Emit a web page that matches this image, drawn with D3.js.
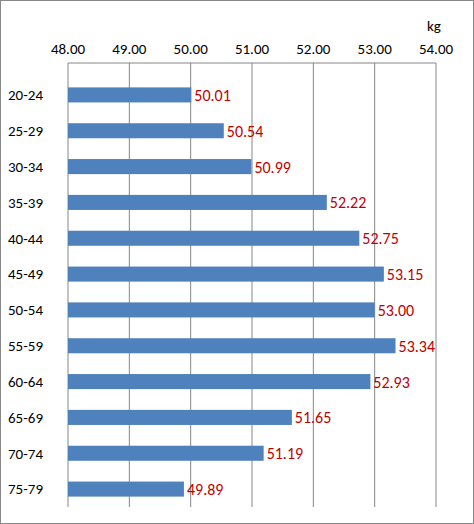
<!DOCTYPE html><html><head><script src="https://cdn.jsdelivr.net/npm/d3@7"></script>
<style>body{margin:0;background:#fff}</style></head><body><script>
const categories=["20-24","25-29","30-34","35-39","40-44","45-49","50-54","55-59","60-64","65-69","70-74","75-79"];
const values=[50.01,50.54,50.99,52.22,52.75,53.15,53.00,53.34,52.93,51.65,51.19,49.89];
const ticks=[48,49,50,51,52,53,54];
const W=474,H=524;
const svg=d3.select("body").append("svg").attr("width",W).attr("height",H).style("font-family","Calibri, Carlito, 'Liberation Sans', sans-serif");
svg.append("rect").attr("x",0.5).attr("y",0.5).attr("width",W-1).attr("height",H-1).attr("fill","#fff").attr("stroke","#888");
const x=d3.scaleLinear().domain([48,54]).range([68,436]);
const y=d3.scaleBand().domain(categories).range([77,507]).paddingInner(0.58).paddingOuter(0.29);
const plotTop=63,plotBottom=507;
svg.append("g").selectAll("line").data(ticks).join("line").attr("x1",d=>x(d)).attr("x2",d=>x(d)).attr("y1",plotTop).attr("y2",plotBottom).attr("stroke","#868686");
svg.append("line").attr("x1",x(48)).attr("x2",x(54)).attr("y1",plotTop).attr("y2",plotTop).attr("stroke","#868686");
svg.append("g").selectAll("text").data(ticks).join("text").attr("x",d=>x(d)).attr("y",54).attr("text-anchor","middle").attr("font-size",15).text(d=>d.toFixed(2));
svg.append("text").attr("x",434).attr("y",31).attr("text-anchor","middle").attr("font-size",15).text("kg");
svg.append("g").selectAll("rect").data(values).join("rect").attr("x",x(48)).attr("y",(d,i)=>y(categories[i])).attr("height",y.bandwidth()).attr("width",d=>x(d)-x(48)).attr("fill","#4f81bd");
svg.append("g").selectAll("text").data(categories).join("text").attr("x",8).attr("y",d=>y(d)+y.bandwidth()/2).attr("dy","0.35em").attr("font-size",15).text(d=>d);
svg.append("g").selectAll("text").data(values).join("text").attr("x",d=>x(d)+3).attr("y",(d,i)=>y(categories[i])+y.bandwidth()/2).attr("dy","0.38em").attr("font-size",16).attr("fill","#c00000").text(d=>d.toFixed(2));
</script></body></html>
